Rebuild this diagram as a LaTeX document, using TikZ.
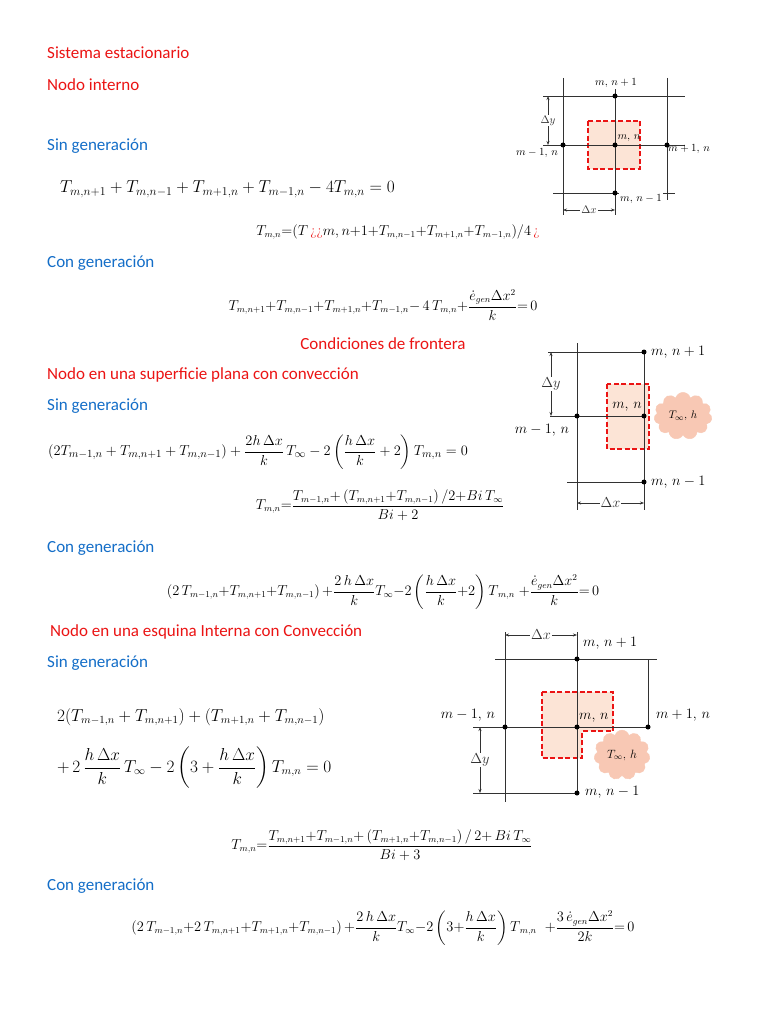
\documentclass[tikz,border=0pt]{standalone}
\usepackage{amsmath}
\usepackage{fontspec}
\newfontfamily\lab{Carlito}
\usetikzlibrary{shapes.symbols,arrows.meta}
\definecolor{rd}{RGB}{235,20,20}
\definecolor{bl}{RGB}{20,110,200}
\definecolor{peach}{RGB}{252,228,214}
\definecolor{cloudc}{RGB}{248,200,180}
\definecolor{gr}{RGB}{50,50,50}
\tikzset{
 red/.style={anchor=west,text=rd,font=\lab\fontsize{17}{20}\selectfont,inner sep=0},
 blue/.style={anchor=west,text=bl,font=\lab\fontsize{17}{20}\selectfont,inner sep=0},
 eq/.style={inner sep=0,font=\fontsize{13.5}{16}\selectfont},
 grid/.style={draw=gr,line width=0.8pt},
 thin/.style={draw=gr,line width=0.5pt},
 dot/.style={circle,fill=black,inner sep=0,minimum size=5pt},
 cell/.style={draw=rd,fill=peach,dashed,dash pattern=on 5pt off 2.5pt,line width=1.6pt},
 lbl/.style={inner sep=1pt,font=\fontsize{11}{12}\selectfont},
 lbb/.style={inner sep=1pt,font=\fontsize{13.5}{15}\selectfont},
 lbc/.style={inner sep=1pt,font=\fontsize{15}{17}\selectfont},
 dim/.style={gr,line width=0.6pt,{Stealth[length=4pt]}-{Stealth[length=4pt]}},
 cl/.style={cloud,cloud puffs=11,fill=cloudc,draw=cloudc,minimum width=58pt,minimum height=30pt,inner sep=0}
}
\begin{document}
\begin{tikzpicture}[x=1pt,y=-1pt]
\useasboundingbox[fill=white] (0,0) rectangle (768,1024);
% texts
\node[red] (t1) at (47,53) {Sistema estacionario};
\node[red] (t2) at (47,85) {Nodo interno};
\node[blue] (t3) at (47,146) {Sin generación};
\node[anchor=west,inner sep=0,font=\fontsize{18.5}{22}\selectfont] (e1) at (60,189) {$T_{m,n+1}+T_{m,n-1}+T_{m+1,n}+T_{m-1,n}-4T_{m,n}=0$};
\node[eq] (e2) at (398,232) {$T_{m,n}{=}(T\,\textcolor{rd}{¿¿}m,n{+}1{+}T_{m,n-1}{+}T_{m+1,n}{+}T_{m-1,n})/4\,\textcolor{rd}{¿}$};
\node[blue] (t4) at (47,263) {Con generación};
\node[eq] (e3) at (383,305) {$T_{m,n+1}{+}T_{m,n-1}{+}T_{m+1,n}{+}T_{m-1,n}{-}\,4\,T_{m,n}{+}\dfrac{\dot e_{gen}\Delta x^2}{k}{=}\,0$};
\node[inner sep=0,text=rd,font=\lab\fontsize{17}{20}\selectfont] (t5) at (383,344) {Condiciones de frontera};
\node[red] (t6) at (47,375) {Nodo en una superficie plana con convección};
\node[blue] (t7) at (47,406) {Sin generación};
\node[anchor=west,inner sep=0,font=\fontsize{15.5}{18}\selectfont] (e4) at (48,452) {$(2T_{m-1,n}+T_{m,n+1}+T_{m,n-1})+\dfrac{2h\,\Delta x}{k}\,T_\infty-2\left(\dfrac{h\,\Delta x}{k}+2\right)T_{m,n}=0$};
\node[eq] (e5) at (380,505) {$T_{m,n}{=}\dfrac{T_{m-1,n}{+}\left(T_{m,n+1}{+}T_{m,n-1}\right)/2{+}Bi\,T_\infty}{Bi+2}$};
\node[blue] (t8) at (47,548) {Con generación};
\node[eq] (e6) at (383,592) {$\left(2\,T_{m-1,n}{+}T_{m,n+1}{+}T_{m,n-1}\right){+}\dfrac{2\,h\,\Delta x}{k}T_\infty{-}2\left(\dfrac{h\,\Delta x}{k}{+}2\right)T_{\,m,n}\;{+}\dfrac{\dot e_{gen}\Delta x^2}{k}{=}\,0$};
\node[red] (t9) at (50,632) {Nodo en una esquina Interna con Convección};
\node[blue] (t10) at (47,663) {Sin generación};
\node[anchor=west,inner sep=0,font=\fontsize{16}{18}\selectfont] (e7a) at (57,717) {$2(T_{m-1,n}+T_{m,n+1})+(T_{m+1,n}+T_{m,n-1})$};
\node[anchor=west,inner sep=0,font=\fontsize{16}{18}\selectfont] (e7b) at (57,768) {$+\,2\,\dfrac{h\,\Delta x}{k}\,T_\infty-2\left(3+\dfrac{h\,\Delta x}{k}\right)T_{m,n}=0$};
\node[eq] (e8) at (382,845) {$T_{m,n}{=}\dfrac{T_{m,n+1}{+}T_{m-1,n}{+}\left(T_{m+1,n}{+}T_{m,n-1}\right)/\,2{+}\,Bi\,T_\infty}{Bi+3}$};
\node[blue] (t11) at (47,886) {Con generación};
\node[eq] (e9) at (383,928) {$\left(2\,T_{m-1,n}{+}2\,T_{m,n+1}{+}T_{m+1,n}{+}T_{m,n-1}\right){+}\dfrac{2\,h\,\Delta x}{k}T_\infty{-}2\left(3{+}\dfrac{h\,\Delta x}{k}\right)T_{\,m,n}\;\;{+}\dfrac{3\,\dot e_{gen}\Delta x^2}{2k}{=}\,0$};

% ---------- figure 1
\draw[cell] (588,121) rectangle (640,169);
\draw[grid] (543,96) -- (685,96) (543,145) -- (685,145) (553,193) -- (675,193);
\draw[grid] (563,78) -- (563,215) (615,78) -- (615,215) (667,78) -- (667,200);
\node[dot] (a1) at (615,96) {}; \node[dot] (a2) at (563,145) {}; \node[dot] (a0) at (615,145) {};
\node[dot] (a3) at (667,145) {}; \node[dot] (a4) at (615,193) {};
\node[lbl,fill=white] at (616,83) {$m,\,n+1$};
\node[lbl] at (629,138) {$m,\,n$};
\node[lbl,fill=white] at (537,153) {$m-1,\,n$};
\node[lbl,anchor=west] at (667,149) {$m+1,\,n$};
\node[lbl,fill=white] at (641,199) {$m,\,n-1$};
\coordinate (d1a) at (548,96); \coordinate (d1b) at (548,145);
\draw[dim] (d1a) -- node[fill=white,inner sep=1pt,font=\fontsize{11}{12}\selectfont]{$\Delta y$} (d1b);
\coordinate (d2a) at (563,210); \coordinate (d2b) at (615,210);
\draw[dim] (d2a) -- node[fill=white,inner sep=1pt,font=\fontsize{11}{12}\selectfont]{$\Delta x$} (d2b);

% ---------- figure 2
\draw[cell] (607,384) rectangle (649,449);
\draw[thin] (577,343) -- (577,510);
\draw[grid] (644,352) -- (644,510);
\draw[grid] (548,352) -- (644,352) (550,416) -- (644,416) (567,482) -- (644,482);
\node[dot] (b1) at (644,352) {}; \node[dot] (b2) at (577,416) {};
\node[dot] (b0) at (644,416) {}; \node[dot] (b4) at (644,482) {};
\node[lbb,anchor=west] at (650,352) {$m,\,n+1$};
\node[lbb] at (627,407) {$m,\,n$};
\node[lbb] at (542,430) {$m-1,\,n$};
\node[lbb,anchor=west] at (650,482) {$m,\,n-1$};
\node[cl,font=\fontsize{11}{13}\selectfont] (c1) at (683,416) {$T_\infty,\,h$};
\coordinate (d3a) at (551,352); \coordinate (d3b) at (551,416);
\draw[dim] (d3a) -- node[fill=white,inner sep=1pt,font=\fontsize{13.5}{15}\selectfont]{$\Delta y$} (d3b);
\coordinate (d4a) at (577,503); \coordinate (d4b) at (644,503);
\draw[dim] (d4a) -- node[fill=white,inner sep=1pt,font=\fontsize{13.5}{15}\selectfont]{$\Delta x$} (d4b);

% ---------- figure 3
\draw[cell] (542,692) -- (613,692) -- (613,731) -- (582,731) -- (582,758) -- (542,758) -- cycle;
\draw[grid] (505,632) -- (505,802) (577,632) -- (577,793) (648,659) -- (648,727);
\draw[grid] (495,659) -- (657,659) (473,727) -- (648,727) (473,793) -- (577,793);
\node[dot] (c31) at (577,659) {}; \node[dot] (c32) at (505,727) {}; \node[dot] (c30) at (577,727) {};
\node[dot] (c33) at (648,727) {}; \node[dot] (c34) at (577,793) {};
\node[lbc,anchor=west] at (582,643) {$m,\,n+1$};
\node[lbc] at (468,715) {$m-1,\,n$};
\node[lbc,anchor=west] at (578,718) {$m,\,n$};
\node[lbc,anchor=west] at (655,715) {$m+1,\,n$};
\node[lbc,anchor=west] at (584,792) {$m,\,n-1$};
\node[cl,minimum width=56pt,font=\fontsize{12}{14}\selectfont] (c2) at (622,755) {$T_\infty,\,h$};
\coordinate (d5a) at (505,635); \coordinate (d5b) at (577,635);
\draw[dim] (d5a) -- node[fill=white,inner sep=1pt,font=\fontsize{15}{17}\selectfont]{$\Delta x$} (d5b);
\coordinate (d6a) at (480,727); \coordinate (d6b) at (480,793);
\draw[dim] (d6a) -- node[fill=white,inner sep=1pt,font=\fontsize{15}{17}\selectfont]{$\Delta y$} (d6b);
\end{tikzpicture}
\end{document}
